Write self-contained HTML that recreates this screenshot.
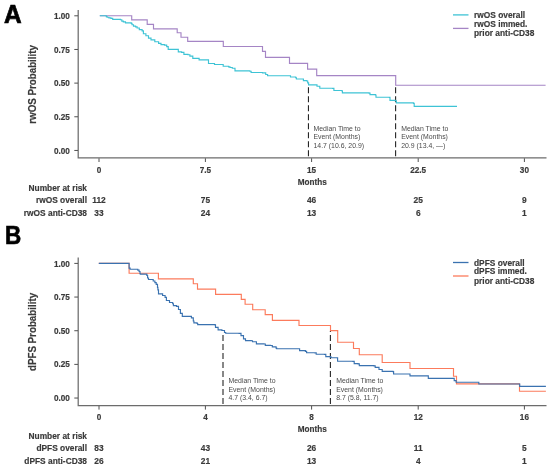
<!DOCTYPE html>
<html><head><meta charset="utf-8"><title>Kaplan-Meier curves</title>
<style>
html,body{margin:0;padding:0;background:#fff;}
body{width:550px;height:468px;overflow:hidden;}
svg{display:block;font-family:"Liberation Sans",Arial,sans-serif;}
.pl{font-weight:bold;font-size:25.3px;fill:#000;stroke:#000;stroke-width:0.7px;}
.tk{font-weight:bold;font-size:8.7px;fill:#3a3a3a;stroke:#3a3a3a;stroke-width:0.18px;}
.yt{font-weight:bold;font-size:10.4px;fill:#3a3a3a;stroke:#3a3a3a;stroke-width:0.18px;}
.lg{font-weight:bold;font-size:8.9px;fill:#3a3a3a;stroke:#3a3a3a;stroke-width:0.18px;}
.rk{font-weight:bold;font-size:8.9px;fill:#3a3a3a;stroke:#3a3a3a;stroke-width:0.18px;}
.an{font-size:6.9px;fill:#4a4a4a;}
</style></head>
<body>
<svg width="550" height="468" viewBox="0 0 550 468">
<rect width="550" height="468" fill="#fff"/>
<text class="pl" transform="translate(3.9 22.5) scale(0.965 1)">A</text>
<text class="pl" transform="translate(5.1 243.6) scale(0.89 1)">B</text>
<path d="M78.2 10.0V157.9H546.5" fill="none" stroke="#6c6c6c" stroke-width="1.25"/>
<path d="M74.3 15.80H78" stroke="#505050" stroke-width="1"/>
<text class="tk" transform="translate(69.80 18.90) scale(0.940 1)" text-anchor="end">1.00</text>
<path d="M74.3 49.46H78" stroke="#505050" stroke-width="1"/>
<text class="tk" transform="translate(69.80 52.56) scale(0.940 1)" text-anchor="end">0.75</text>
<path d="M74.3 83.12H78" stroke="#505050" stroke-width="1"/>
<text class="tk" transform="translate(69.80 86.22) scale(0.940 1)" text-anchor="end">0.50</text>
<path d="M74.3 116.78H78" stroke="#505050" stroke-width="1"/>
<text class="tk" transform="translate(69.80 119.88) scale(0.940 1)" text-anchor="end">0.25</text>
<path d="M74.3 150.44H78" stroke="#505050" stroke-width="1"/>
<text class="tk" transform="translate(69.80 153.54) scale(0.940 1)" text-anchor="end">0.00</text>
<path d="M99.0 158.3V162.0" stroke="#505050" stroke-width="1"/>
<text class="tk" transform="translate(99.00 172.70) scale(0.940 1)" text-anchor="middle">0</text>
<path d="M205.4 158.3V162.0" stroke="#505050" stroke-width="1"/>
<text class="tk" transform="translate(205.40 172.70) scale(0.940 1)" text-anchor="middle">7.5</text>
<path d="M311.6 158.3V162.0" stroke="#505050" stroke-width="1"/>
<text class="tk" transform="translate(311.60 172.70) scale(0.940 1)" text-anchor="middle">15</text>
<path d="M418.2 158.3V162.0" stroke="#505050" stroke-width="1"/>
<text class="tk" transform="translate(418.20 172.70) scale(0.940 1)" text-anchor="middle">22.5</text>
<path d="M524.4 158.3V162.0" stroke="#505050" stroke-width="1"/>
<text class="tk" transform="translate(524.40 172.70) scale(0.940 1)" text-anchor="middle">30</text>
<text class="tk" transform="translate(312.20 184.80) scale(0.940 1)" text-anchor="middle">Months</text>
<text class="yt" transform="translate(36.30 84.4) rotate(-90) scale(0.940 1)" text-anchor="middle">rwOS Probability</text>
<path d="M308.45 87.3V157.6" stroke="#262626" stroke-width="1.1" stroke-dasharray="6 3" stroke-dashoffset="0.00"/>
<path d="M395.60 87.3V157.6" stroke="#262626" stroke-width="1.1" stroke-dasharray="6 3" stroke-dashoffset="0.00"/>
<path d="M99.8 15.7H131.7V19.9H147.2V24.4H153.5V28.8H177.2V32.7H181.0V37.2H187.7V41.3H223.3V46.5H262.5V51.3H265.5V57.3H289.5V63.3H307.6V69.1H316.7V75.6H395.7V85.2H545.6" fill="none" stroke="#a585c5" stroke-width="1.15"/>
<path d="M99.8 15.7H106.3V16.6H107.1V17.2H108.9V17.8H110.9V18.4H112.7V19.3H120.4V19.7H121.8V21.1H123.3V21.9H125.5V22.9H131.3V23.4H132.0V24.7H133.5V26.1H135.6V26.9H137.1V28.0H139.3V29.6H142.1V30.8H143.4V33.7H145.9V35.7H148.5V38.1H151.0V39.8H154.8V41.7H158.6V43.4H161.0V44.6H164.5V45.1H166.7V46.6H168.2V49.4H177.9H178.3V51.9H181.6V52.4H183.9V54.3H188.0V54.7H189.9V56.1H192.8V58.4H199.1V59.8H208.5V63.5H214.5V64.5H223.2V66.2H228.6V66.9H230.0V67.5H232.3V68.2H235.0V70.9H249.8V71.2H251.1V72.5H262.5V72.8H265.7V74.5H267.6V75.7H289.3H290.5V77.0H295.7V77.7H296.4V79.0H303.4V80.6H306.7V81.0H307.7V82.9H308.6V84.8H317.0V86.2H319.8V88.2H332.6V88.4H333.9V90.5H341.5V90.7H342.4V92.8H369.0V93.1H370.0V94.6H375.4V95.0H376.0V97.2H389.4V97.4H390.0V100.3H395.1V100.7H396.4V102.9H413.5V103.3H414.2V106.3H457.0" fill="none" stroke="#3ec3d5" stroke-width="1.15"/>
<text class="an" x="313.5" y="131.0">Median Time to</text>
<text class="an" x="313.5" y="139.3">Event (Months)</text>
<text class="an" x="313.5" y="147.6">14.7 (10.6, 20.9)</text>
<text class="an" x="401.2" y="131.0">Median Time to</text>
<text class="an" x="401.2" y="139.3">Event (Months)</text>
<text class="an" x="401.2" y="147.6">20.9 (13.4, —)</text>
<path d="M453 14.9H468.5" stroke="#3ec3d5" stroke-width="1.3"/>
<path d="M453 28.4H468.5" stroke="#a585c5" stroke-width="1.3"/>
<text class="lg" transform="translate(474.00 17.90) scale(0.940 1)">rwOS overall</text>
<text class="lg" transform="translate(474.00 26.50) scale(0.940 1)">rwOS immed.</text>
<text class="lg" transform="translate(474.00 36.30) scale(0.940 1)">prior anti-CD38</text>
<text class="rk" transform="translate(87.00 190.90) scale(0.940 1)" text-anchor="end">Number at risk</text>
<text class="rk" transform="translate(87.00 203.10) scale(0.940 1)" text-anchor="end">rwOS overall</text>
<text class="rk" transform="translate(87.00 216.10) scale(0.940 1)" text-anchor="end">rwOS anti-CD38</text>
<text class="rk" transform="translate(99.00 203.10) scale(0.940 1)" text-anchor="middle">112</text>
<text class="rk" transform="translate(99.00 216.10) scale(0.940 1)" text-anchor="middle">33</text>
<text class="rk" transform="translate(205.40 203.10) scale(0.940 1)" text-anchor="middle">75</text>
<text class="rk" transform="translate(205.40 216.10) scale(0.940 1)" text-anchor="middle">24</text>
<text class="rk" transform="translate(311.60 203.10) scale(0.940 1)" text-anchor="middle">46</text>
<text class="rk" transform="translate(311.60 216.10) scale(0.940 1)" text-anchor="middle">13</text>
<text class="rk" transform="translate(418.20 203.10) scale(0.940 1)" text-anchor="middle">25</text>
<text class="rk" transform="translate(418.20 216.10) scale(0.940 1)" text-anchor="middle">6</text>
<text class="rk" transform="translate(524.40 203.10) scale(0.940 1)" text-anchor="middle">9</text>
<text class="rk" transform="translate(524.40 216.10) scale(0.940 1)" text-anchor="middle">1</text>
<path d="M78.2 257.6V405.5H546.5" fill="none" stroke="#6c6c6c" stroke-width="1.25"/>
<path d="M74.3 263.40H78" stroke="#505050" stroke-width="1"/>
<text class="tk" transform="translate(69.80 266.50) scale(0.940 1)" text-anchor="end">1.00</text>
<path d="M74.3 297.06H78" stroke="#505050" stroke-width="1"/>
<text class="tk" transform="translate(69.80 300.16) scale(0.940 1)" text-anchor="end">0.75</text>
<path d="M74.3 330.72H78" stroke="#505050" stroke-width="1"/>
<text class="tk" transform="translate(69.80 333.82) scale(0.940 1)" text-anchor="end">0.50</text>
<path d="M74.3 364.38H78" stroke="#505050" stroke-width="1"/>
<text class="tk" transform="translate(69.80 367.48) scale(0.940 1)" text-anchor="end">0.25</text>
<path d="M74.3 398.04H78" stroke="#505050" stroke-width="1"/>
<text class="tk" transform="translate(69.80 401.14) scale(0.940 1)" text-anchor="end">0.00</text>
<path d="M99.0 405.9V409.6" stroke="#505050" stroke-width="1"/>
<text class="tk" transform="translate(99.00 420.30) scale(0.940 1)" text-anchor="middle">0</text>
<path d="M205.4 405.9V409.6" stroke="#505050" stroke-width="1"/>
<text class="tk" transform="translate(205.40 420.30) scale(0.940 1)" text-anchor="middle">4</text>
<path d="M311.6 405.9V409.6" stroke="#505050" stroke-width="1"/>
<text class="tk" transform="translate(311.60 420.30) scale(0.940 1)" text-anchor="middle">8</text>
<path d="M418.2 405.9V409.6" stroke="#505050" stroke-width="1"/>
<text class="tk" transform="translate(418.20 420.30) scale(0.940 1)" text-anchor="middle">12</text>
<path d="M524.4 405.9V409.6" stroke="#505050" stroke-width="1"/>
<text class="tk" transform="translate(524.40 420.30) scale(0.940 1)" text-anchor="middle">16</text>
<text class="tk" transform="translate(312.20 432.40) scale(0.940 1)" text-anchor="middle">Months</text>
<text class="yt" transform="translate(36.30 332.0) rotate(-90) scale(0.940 1)" text-anchor="middle">dPFS Probability</text>
<path d="M223.00 334.9V405.2" stroke="#262626" stroke-width="1.1" stroke-dasharray="6 3" stroke-dashoffset="0.00"/>
<path d="M330.40 331.0V405.2" stroke="#262626" stroke-width="1.1" stroke-dasharray="6 3" stroke-dashoffset="5.10"/>
<path d="M98.8 263.3H129.1V273.2H158.4V278.9H193.3V283.7H197.5V289.1H215.6V294.3H241.3V299.3H245.1V304.2H252.7V309.7H265.2V314.6H272.4V320.4H299.0V325.5H330.5V330.6H337.7V342.2H353.5V348.5H359.3V354.7H382.2V362.5H410.0V368.5H453.5V376.2H456.5V383.8H519.5V391.2H545.9" fill="none" stroke="#fc7b5c" stroke-width="1.15"/>
<path d="M98.8 263.3H129.1V268.1H130.1V269.2H137.8V270.1H139.1V271.5H140.0V273.7H140.4V274.1H146.8V275.4H147.6V278.0H148.5V279.5H153.2V281.0H154.9V282.6H156.2V284.4H157.5V287.4H157.9V289.9H158.5V293.8H162.6V295.5H165.1V297.4H166.4V300.5H169.5V302.5H172.7V303.7H173.4V305.6H176.5V306.3H178.5V309.5H180.4V313.3H182.3V316.3H191.4V317.8H193.3V321.0H193.9V322.9H197.1V323.5H197.7V324.6H214.9V324.8H215.5V327.4H218.1V329.9H221.9V330.5H224.5V332.5H225.7V333.2H239.1V333.3H241.0V335.6H243.5V338.8H245.5V340.6H251.2V340.7H252.5V341.7H256.4V343.8H264.0V344.0H265.3V345.4H270.4V345.5H272.3V346.8H276.1V348.1H276.7V348.7H298.4H299.6V350.6H305.4V351.3H306.6V352.7H314.9V352.9H316.2V354.2H324.5V354.3H325.8V356.6H330.3V356.8H331.0V357.7H337.3V357.9H337.6V361.2H352.9V361.4H354.2V363.6H358.0V363.9H359.3V365.6H373.9V365.8H375.2V367.4H379.0V369.5H382.2V371.4H393.0V371.6H393.6V374.0H410.0V375.8H428.3V378.3H454.2V380.6H456.1V382.2H478.8V384.0H519.7V386.4H545.9" fill="none" stroke="#3a72b0" stroke-width="1.15"/>
<text class="an" x="228.5" y="383.3">Median Time to</text>
<text class="an" x="228.5" y="391.7">Event (Months)</text>
<text class="an" x="228.5" y="399.9">4.7 (3.4, 6.7)</text>
<text class="an" x="336.2" y="383.3">Median Time to</text>
<text class="an" x="336.2" y="391.7">Event (Months)</text>
<text class="an" x="336.2" y="399.9">8.7 (5.8, 11.7)</text>
<path d="M453 262.5H468.5" stroke="#3a72b0" stroke-width="1.3"/>
<path d="M453 276.0H468.5" stroke="#fc7b5c" stroke-width="1.3"/>
<text class="lg" transform="translate(474.00 265.50) scale(0.940 1)">dPFS overall</text>
<text class="lg" transform="translate(474.00 274.10) scale(0.940 1)">dPFS immed.</text>
<text class="lg" transform="translate(474.00 283.90) scale(0.940 1)">prior anti-CD38</text>
<text class="rk" transform="translate(87.00 438.50) scale(0.940 1)" text-anchor="end">Number at risk</text>
<text class="rk" transform="translate(87.00 450.70) scale(0.940 1)" text-anchor="end">dPFS overall</text>
<text class="rk" transform="translate(87.00 463.70) scale(0.940 1)" text-anchor="end">dPFS anti-CD38</text>
<text class="rk" transform="translate(99.00 450.70) scale(0.940 1)" text-anchor="middle">83</text>
<text class="rk" transform="translate(99.00 463.70) scale(0.940 1)" text-anchor="middle">26</text>
<text class="rk" transform="translate(205.40 450.70) scale(0.940 1)" text-anchor="middle">43</text>
<text class="rk" transform="translate(205.40 463.70) scale(0.940 1)" text-anchor="middle">21</text>
<text class="rk" transform="translate(311.60 450.70) scale(0.940 1)" text-anchor="middle">26</text>
<text class="rk" transform="translate(311.60 463.70) scale(0.940 1)" text-anchor="middle">13</text>
<text class="rk" transform="translate(418.20 450.70) scale(0.940 1)" text-anchor="middle">11</text>
<text class="rk" transform="translate(418.20 463.70) scale(0.940 1)" text-anchor="middle">4</text>
<text class="rk" transform="translate(524.40 450.70) scale(0.940 1)" text-anchor="middle">5</text>
<text class="rk" transform="translate(524.40 463.70) scale(0.940 1)" text-anchor="middle">1</text>
</svg>
</body></html>
